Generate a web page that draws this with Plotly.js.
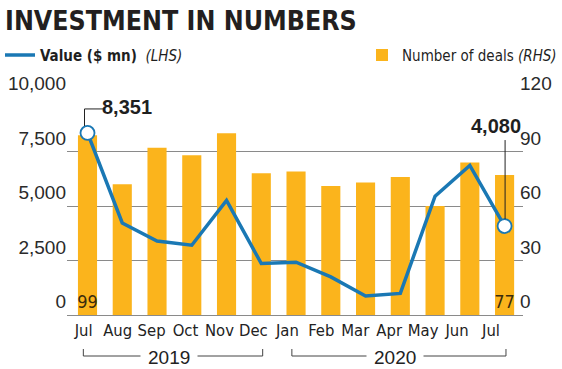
<!DOCTYPE html>
<html>
<head>
<meta charset="utf-8">
<script src="https://cdn.plot.ly/plotly-3.0.1.min.js"></script>
<style>
html,body{margin:0;padding:0;background:#fff;}
#chart{width:562px;height:369px;}
</style>
</head>
<body>
<div id="chart"></div>
<script>
// ---- data ----
var months = ['Jul','Aug','Sep','Oct','Nov','Dec','Jan','Feb','Mar','Apr','May','Jun','Jul'];
var years = ['2019','2020'];
var yearStart = [0, 6];
var yearEnd = [5, 12];
var valueMn = [8351, 4220, 3390, 3200, 5260, 2360, 2420, 1750, 870, 990, 5450, 6860, 4080];
var deals = [99, 72, 92, 88, 100, 78, 79, 71, 73, 76, 60, 84, 77];
var leftTicks = [0, 2500, 5000, 7500, 10000];
var rightTicks = [0, 30, 60, 90, 120];

var idx = months.map(function(m, i){ return i; });
var last = months.length - 1;
var blue = '#1a78b4';
var gold = '#fbb41c';
var COND = '"DejaVu Sans Condensed", "Liberation Sans Narrow", sans-serif';
var SANS = '"Liberation Sans", Arial, sans-serif';

var barText = deals.map(function(v, i){ return (i === 0 || i === last) ? String(v) : ''; });

var traces = [
  {
    type: 'bar', x: idx, y: deals, xaxis: 'x', yaxis: 'y',
    name: 'Number of deals <i>(RHS)</i>', legend: 'legend2',
    marker: {color: gold}, width: 0.55,
    text: barText, textposition: 'inside', insidetextanchor: 'start', textangle: 0,
    constraintext: 'none', cliponaxis: false,
    textfont: {family: COND, size: 18, color: '#3a2c0c'},
    hoverinfo: 'skip'
  },
  {
    type: 'scatter', mode: 'lines', x: idx, y: valueMn, xaxis: 'x', yaxis: 'y2',
    name: '<b>Value ($ mn)</b>  <i>(LHS)</i>', legend: 'legend',
    line: {color: blue, width: 3.5},
    hoverinfo: 'skip'
  },
  {
    type: 'scatter', mode: 'markers', x: [idx[0], idx[last]], y: [valueMn[0], valueMn[last]],
    xaxis: 'x', yaxis: 'y2', showlegend: false, cliponaxis: false,
    marker: {size: 14, color: '#ffffff', line: {color: blue, width: 1.8}},
    hoverinfo: 'skip'
  },
  {
    type: 'scatter', mode: 'markers', x: [], y: [], xaxis: 'x2', yaxis: 'y',
    showlegend: false, hoverinfo: 'skip'
  }
];

var fmt = function(v){ return v.toLocaleString('en-US'); };

var shapes = [];
// leader for first value
shapes.push({
  type: 'path', xref: 'x', yref: 'y2', xsizemode: 'pixel', ysizemode: 'pixel',
  xanchor: idx[0], yanchor: valueMn[0],
  path: 'M -3 7 L -3 24 L 17 24',
  line: {color: '#222', width: 1}
});
// leader for last value
shapes.push({
  type: 'path', xref: 'x', yref: 'y2', xsizemode: 'pixel', ysizemode: 'pixel',
  xanchor: idx[last], yanchor: valueMn[last],
  path: 'M 0.5 7 L 0.5 86',
  line: {color: '#222', width: 1}
});
// year brackets
for (var k = 0; k < years.length; k++) {
  shapes.push({
    type: 'path', xref: 'x', yref: 'paper', ysizemode: 'pixel', yanchor: 0,
    path: 'M ' + (yearStart[k] - 0.12) + ' -34 L ' + (yearStart[k] - 0.12) + ' -41 L ' + (yearEnd[k] + 0.04) + ' -41 L ' + (yearEnd[k] + 0.04) + ' -34',
    line: {color: '#444', width: 1}
  });
}

var annotations = [
  {xref: 'x', yref: 'y2', x: idx[0], y: valueMn[0], text: '<b>' + fmt(valueMn[0]) + '</b>',
   showarrow: false, xanchor: 'left', yanchor: 'middle', xshift: 12, yshift: 26,
   font: {family: SANS, size: 20, color: '#1f1f1f'}},
  {xref: 'x', yref: 'y2', x: idx[last], y: valueMn[last], text: '<b>' + fmt(valueMn[last]) + '</b>',
   showarrow: false, xanchor: 'center', yanchor: 'middle', xshift: -9, yshift: 100,
   font: {family: SANS, size: 20, color: '#1f1f1f'}}
];
for (var k2 = 0; k2 < years.length; k2++) {
  annotations.push({
    xref: 'x', yref: 'paper', x: (yearStart[k2] + yearEnd[k2]) / 2 - 0.15, y: 0, yshift: -42,
    text: years[k2], showarrow: false, xanchor: 'center', yanchor: 'middle',
    bgcolor: '#ffffff', borderpad: 7,
    font: {family: SANS, size: 19, color: '#222'}
  });
}

var layout = {
  width: 562, height: 369,
  margin: {l: 67, r: 39, t: 97, b: 54, pad: 0},
  paper_bgcolor: '#ffffff', plot_bgcolor: '#ffffff',
  title: {
    text: '<b>INVESTMENT IN NUMBERS</b>',
    x: 0.009, xanchor: 'left', xref: 'container',
    y: 0.945, yanchor: 'middle', yref: 'container',
    font: {family: COND, size: 26.5, color: '#231f20'}
  },
  showlegend: true,
  legend: {
    xref: 'container', yref: 'container', x: 0.0, y: 0.85, xanchor: 'left', yanchor: 'middle',
    orientation: 'h', font: {family: COND, size: 15, color: '#1f1f1f'},
    bgcolor: 'rgba(0,0,0,0)', itemwidth: 30
  },
  legend2: {
    xref: 'container', yref: 'container', x: 1.0, y: 0.85, xanchor: 'right', yanchor: 'middle',
    orientation: 'h', font: {family: COND, size: 15, color: '#1f1f1f'},
    bgcolor: 'rgba(0,0,0,0)', itemwidth: 30
  },
  xaxis: {
    range: [-0.59, 12.53], showticklabels: false, showgrid: false, zeroline: false,
    showline: false, ticks: '', fixedrange: true
  },
  xaxis2: {
    overlaying: 'x', anchor: 'y', side: 'bottom',
    range: [-0.492, 12.943], tickmode: 'array', tickvals: idx, ticktext: months,
    tickangle: 0, showgrid: false, zeroline: false, showline: false, ticks: '',
    ticklabelstandoff: 3,
    tickfont: {family: COND, size: 16.5, color: '#222'}, fixedrange: true
  },
  yaxis: {
    side: 'right', range: [0, 120], tickmode: 'array', tickvals: rightTicks,
    showgrid: true, gridcolor: '#8a8a8a', gridwidth: 1,
    zeroline: true, zerolinecolor: '#8a8a8a', zerolinewidth: 1,
    showline: false, ticks: '', ticklen: 0, ticklabelposition: 'outside top',
    ticklabelstandoff: -4,
    tickfont: {family: SANS, size: 19, color: '#2a2a2a'}, fixedrange: true
  },
  yaxis2: {
    overlaying: 'y', side: 'left', range: [0, 10000], tickmode: 'array', tickvals: leftTicks,
    tickformat: ',d', showgrid: false, zeroline: false, showline: false, ticks: '',
    ticklabelposition: 'outside top',
    tickfont: {family: SANS, size: 19, color: '#2a2a2a'}, fixedrange: true
  },
  shapes: shapes,
  annotations: annotations
};

Plotly.newPlot('chart', traces, layout, {displayModeBar: false, staticPlot: true});
</script>
</body>
</html>
